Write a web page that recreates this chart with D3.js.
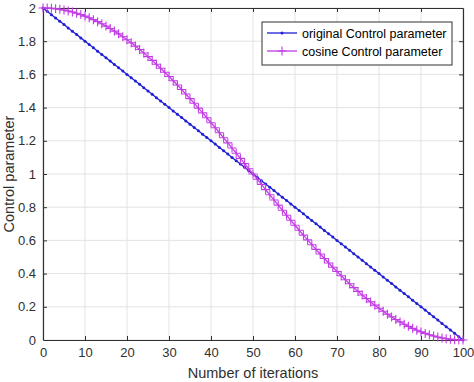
<!DOCTYPE html>
<html lang="en">
<head>
<meta charset="utf-8">
<script src="https://d3js.org/d3.v7.min.js"></script>
<style>
  body { margin: 0; background: #fff; }
  text { font-family: "Liberation Sans", Arial, sans-serif; }
</style>
</head>
<body>
<div id="chart"></div>
<script>
// iteration index (x values)
var iterations = [0,1,2,3,4,5,6,7,8,9,10,11,12,13,14,15,16,17,18,19,20,21,22,23,24,25,26,27,28,29,30,
  31,32,33,34,35,36,37,38,39,40,41,42,43,44,45,46,47,48,49,50,51,52,53,54,55,56,57,58,59,60,
  61,62,63,64,65,66,67,68,69,70,71,72,73,74,75,76,77,78,79,80,81,82,83,84,85,86,87,88,89,90,
  91,92,93,94,95,96,97,98,99,100];

// original control parameter (straight line)
var originalParam = [2,1.98,1.96,1.94,1.92,1.9,1.88,1.86,1.84,1.82,1.8,1.78,1.76,1.74,1.72,1.7,1.68,1.66,1.64,1.62,
  1.6,1.58,1.56,1.54,1.52,1.5,1.48,1.46,1.44,1.42,1.4,1.38,1.36,1.34,1.32,1.3,1.28,1.26,1.24,1.22,
  1.2,1.18,1.16,1.14,1.12,1.1,1.08,1.06,1.04,1.02,1,0.98,0.96,0.94,0.92,0.9,0.88,0.86,0.84,0.82,
  0.8,0.78,0.76,0.74,0.72,0.7,0.68,0.66,0.64,0.62,0.6,0.58,0.56,0.54,0.52,0.5,0.48,0.46,0.44,0.42,
  0.4,0.38,0.36,0.34,0.32,0.3,0.28,0.26,0.24,0.22,0.2,0.18,0.16,0.14,0.12,0.1,0.08,0.06,0.04,0.02,0];

// cosine control parameter
var cosineParam = [2,1.9995,1.998,1.9956,1.9921,1.9877,1.9823,1.9759,1.9686,1.9603,1.9511,1.9409,1.9298,1.9178,1.9048,
  1.891,1.8763,1.8607,1.8443,1.8271,1.809,1.7902,1.7705,1.7501,1.729,1.7071,1.6845,1.6613,1.6374,1.6129,
  1.5878,1.5621,1.5358,1.509,1.4818,1.454,1.4258,1.3971,1.3681,1.3387,1.309,1.279,1.2487,1.2181,1.1874,
  1.1564,1.1253,1.0941,1.0628,1.0314,1,0.9686,0.9372,0.9059,0.8747,0.8436,0.8126,0.7819,0.7513,0.721,
  0.691,0.6613,0.6319,0.6029,0.5742,0.546,0.5182,0.491,0.4642,0.4379,0.4122,0.3871,0.3626,0.3387,0.3155,
  0.2929,0.271,0.2499,0.2295,0.2098,0.191,0.1729,0.1557,0.1393,0.1237,0.109,0.0952,0.0822,0.0702,0.0591,
  0.0489,0.0397,0.0314,0.0241,0.0177,0.0123,0.0079,0.0044,0.002,0.0005,0];

var xTicks = [0,10,20,30,40,50,60,70,80,90,100];
var yTicks = [0,0.2,0.4,0.6,0.8,1,1.2,1.4,1.6,1.8,2];
var seriesNames = ["original Control parameter", "cosine Control parameter"];

var width = 474, height = 382;
var margin = {top: 8, right: 11, bottom: 42, left: 43};

var svg = d3.select("#chart").append("svg")
    .attr("width", width)
    .attr("height", height);

var x = d3.scaleLinear().domain([0, 100]).range([margin.left, width - margin.right]);
var y = d3.scaleLinear().domain([0, 2]).range([height - margin.bottom, margin.top]);

var axisColor = "#303030";

// grid
svg.append("g").selectAll("line").data(xTicks).enter().append("line")
    .attr("x1", d => x(d)).attr("x2", d => x(d))
    .attr("y1", y(0)).attr("y2", y(2))
    .attr("stroke", "#e3e3e3").attr("stroke-width", 1);
svg.append("g").selectAll("line").data(yTicks).enter().append("line")
    .attr("x1", x(0)).attr("x2", x(100))
    .attr("y1", d => y(d)).attr("y2", d => y(d))
    .attr("stroke", "#e3e3e3").attr("stroke-width", 1);

// axes (ticks inside, box on)
var fmt = d => String(d);
var xAxis = svg.append("g")
    .attr("transform", `translate(0,${y(0)})`)
    .call(d3.axisBottom(x).tickValues(xTicks).tickFormat(fmt).tickSize(-4).tickPadding(8).tickSizeOuter(0));
var xTop = svg.append("g")
    .attr("transform", `translate(0,${y(2)})`)
    .call(d3.axisTop(x).tickValues(xTicks).tickSize(-4).tickFormat("").tickSizeOuter(0));
var yAxis = svg.append("g")
    .attr("transform", `translate(${x(0)},0)`)
    .call(d3.axisLeft(y).tickValues(yTicks).tickFormat(fmt).tickSize(-4).tickPadding(7).tickSizeOuter(0));
var yRight = svg.append("g")
    .attr("transform", `translate(${x(100)},0)`)
    .call(d3.axisRight(y).tickValues(yTicks).tickSize(-4).tickFormat("").tickSizeOuter(0));

[xAxis, xTop, yAxis, yRight].forEach(function(g) {
    g.select(".domain").attr("stroke", axisColor).attr("stroke-width", 1.2);
    g.selectAll(".tick line").attr("stroke", axisColor);
    g.selectAll(".tick text").attr("fill", axisColor)
        .style("font-family", "'Liberation Sans', Arial, sans-serif")
        .style("font-size", "13px");
});
// hide tick marks at the ends (they sit on the box)
xAxis.selectAll(".tick").filter(d => d === 0 || d === 100).select("line").remove();
xTop.selectAll(".tick").filter(d => d === 0 || d === 100).select("line").remove();
yAxis.selectAll(".tick").filter(d => d === 0 || d === 2).select("line").remove();
yRight.selectAll(".tick").filter(d => d === 0 || d === 2).select("line").remove();

// series
var blue = "#1f1fd6";
var magenta = "#c23ce6";

var line1 = d3.line().x((d, i) => x(iterations[i])).y(d => y(d));

svg.append("path")
    .attr("d", line1(originalParam))
    .attr("fill", "none").attr("stroke", blue).attr("stroke-width", 1.3);
svg.append("g").selectAll("circle").data(originalParam).enter().append("circle")
    .attr("cx", (d, i) => x(iterations[i]))
    .attr("cy", d => y(d))
    .attr("r", 1.5)
    .attr("fill", blue);

svg.append("path")
    .attr("d", line1(cosineParam))
    .attr("fill", "none").attr("stroke", magenta).attr("stroke-width", 1.3);
var plus = 4.5;
var pg = svg.append("g").attr("stroke", magenta).attr("stroke-width", 1.1);
pg.selectAll("path").data(cosineParam).enter().append("path")
    .attr("d", (d, i) => {
        var cx = x(iterations[i]), cy = y(d);
        return `M${cx - plus},${cy}H${cx + plus}M${cx},${cy - plus}V${cy + plus}`;
    });

// legend
var legend = svg.append("g");
legend.append("rect")
    .attr("x", 262).attr("y", 22).attr("width", 190).attr("height", 43)
    .attr("fill", "#fff").attr("stroke", axisColor).attr("stroke-width", 1);
var colors = [blue, magenta];
seriesNames.forEach(function(name, i) {
    var ly = 33 + i * 18;
    legend.append("line")
        .attr("x1", 267).attr("x2", 297).attr("y1", ly).attr("y2", ly)
        .attr("stroke", colors[i]).attr("stroke-width", 1.3);
    if (i === 0) {
        legend.append("circle").attr("cx", 282).attr("cy", ly).attr("r", 1.5).attr("fill", blue);
    } else {
        legend.append("path")
            .attr("d", `M${282 - plus},${ly}H${282 + plus}M282,${ly - plus}V${ly + plus}`)
            .attr("stroke", magenta).attr("stroke-width", 1.1);
    }
    legend.append("text")
        .attr("x", 302).attr("y", ly + 4.5)
        .attr("fill", "#000")
        .style("font-size", "12.5px")
        .text(name);
});

// axis labels
svg.append("text")
    .attr("x", (x(0) + x(100)) / 2).attr("y", 378)
    .attr("text-anchor", "middle")
    .attr("fill", axisColor)
    .style("font-size", "14.5px")
    .text("Number of iterations");
svg.append("text")
    .attr("transform", `translate(14,${(y(0) + y(2)) / 2}) rotate(-90)`)
    .attr("text-anchor", "middle")
    .attr("fill", axisColor)
    .style("font-size", "14.5px")
    .text("Control parameter");
</script>
</body>
</html>
